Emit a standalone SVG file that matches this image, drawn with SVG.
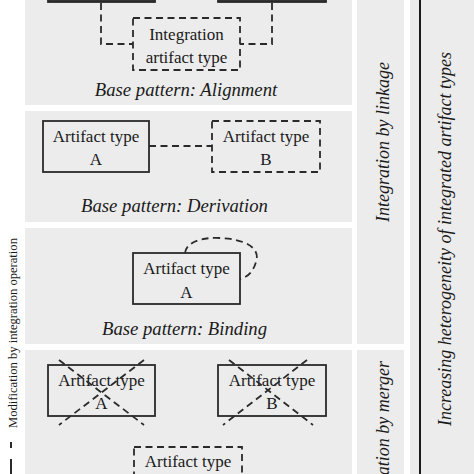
<svg xmlns="http://www.w3.org/2000/svg" width="474" height="474" viewBox="0 0 474 474">
<style>
.panel{fill:#ececec}
.box{fill:none;stroke:#2a2a2a;stroke-width:1.8}
.dash{fill:none;stroke:#2a2a2a;stroke-width:1.8;stroke-dasharray:7 4.5}
.t{font-family:"Liberation Serif","Times New Roman",serif;font-size:17px;fill:#1a1a1a;text-anchor:middle}
.cap{font-family:"Liberation Serif","Times New Roman",serif;font-size:18.7px;font-style:italic;fill:#1a1a1a;text-anchor:middle}
.col{font-family:"Liberation Serif","Times New Roman",serif;font-size:18px;font-style:italic;fill:#1a1a1a}
.side{font-family:"Liberation Serif","Times New Roman",serif;font-size:12.6px;fill:#1a1a1a;text-anchor:middle}
</style>
<rect width="474" height="474" fill="#ffffff"/>
<g id="panels">
<rect class="panel" x="25" y="0" width="327" height="105"/>
<rect class="panel" x="25" y="111" width="327" height="111"/>
<rect class="panel" x="25" y="228" width="327" height="116"/>
<rect class="panel" x="25" y="350" width="327" height="124"/>
<rect class="panel" x="357" y="0" width="47" height="344"/>
<rect class="panel" x="357" y="350" width="47" height="124"/>
<rect class="panel" x="410" y="0" width="64" height="474"/>
</g>
<g id="axis">
<line x1="420" y1="0" x2="420" y2="474" stroke="#1a1a1a" stroke-width="2"/>
<text class="col" text-anchor="middle" transform="translate(451,239) rotate(-90)">Increasing heterogeneity of integrated artifact types</text>
</g>
<g id="col-linkage">
<text class="col" text-anchor="middle" transform="translate(389,142) rotate(-90)">Integration by linkage</text>
</g>
<g id="col-merger">
<text class="col" text-anchor="end" transform="translate(389,361) rotate(-90)">Integration by merger</text>
</g>
<g id="side-label">
<text class="side" transform="translate(17,333) rotate(-90)">Modification by integration operation</text>
<line x1="11" y1="442" x2="11" y2="448" stroke="#2a2a2a" stroke-width="2"/>
<line x1="11" y1="459" x2="11" y2="474" stroke="#2a2a2a" stroke-width="2"/>
</g>
<g id="alignment">
<rect x="48" y="-40" width="107" height="42" fill="#333" stroke="#2a2a2a" stroke-width="1.8"/>
<rect x="218" y="-40" width="108" height="42" fill="#333" stroke="#2a2a2a" stroke-width="1.8"/>
<rect class="dash" x="133" y="18" width="107" height="52"/>
<text class="t" x="186.5" y="40">Integration</text>
<text class="t" x="186.5" y="63">artifact type</text>
<text class="cap" x="186" y="96">Base pattern: Alignment</text>
</g>
<g id="derivation">
<rect class="box" x="43" y="121" width="106" height="51"/>
<text class="t" x="96" y="142">Artifact type</text>
<text class="t" x="96" y="165">A</text>
<rect class="dash" x="212" y="121" width="108" height="51"/>
<text class="t" x="266" y="142">Artifact type</text>
<text class="t" x="266" y="165">B</text>
<text class="cap" x="174.5" y="212">Base pattern: Derivation</text>
</g>
<g id="binding">
<rect class="box" x="133" y="253" width="107" height="51"/>
<text class="t" x="186.5" y="274">Artifact type</text>
<text class="t" x="186.5" y="298">A</text>
<text class="cap" x="184.5" y="335">Base pattern: Binding</text>
</g>
<g id="merger">
<rect class="box" x="48" y="365" width="107" height="51"/>
<text class="t" x="101.5" y="386">Artifact type</text>
<text class="t" x="101.5" y="409">A</text>
<rect class="box" x="218" y="365" width="108" height="51"/>
<text class="t" x="272" y="386">Artifact type</text>
<text class="t" x="272" y="409">B</text>
<rect class="dash" x="134" y="447" width="108" height="40"/>
<text class="t" x="188" y="467">Artifact type</text>
</g>
<g id="connectors">
<path class="dash" d="M101,3 V44 H133"/>
<path class="dash" d="M272,3 V44 H240"/>
<path class="dash" d="M149,146 H212"/>
<path class="dash" d="M185,253 C186,243 200,237 220,238 C245,239 261,248 256,262 C253,272 248,277 240,279"/>
<path class="dash" d="M59,360 L144,425 M144,360 L59,425"/>
<path class="dash" d="M229,360 L313,425 M307,360 L223,425"/>
</g>
</svg>
